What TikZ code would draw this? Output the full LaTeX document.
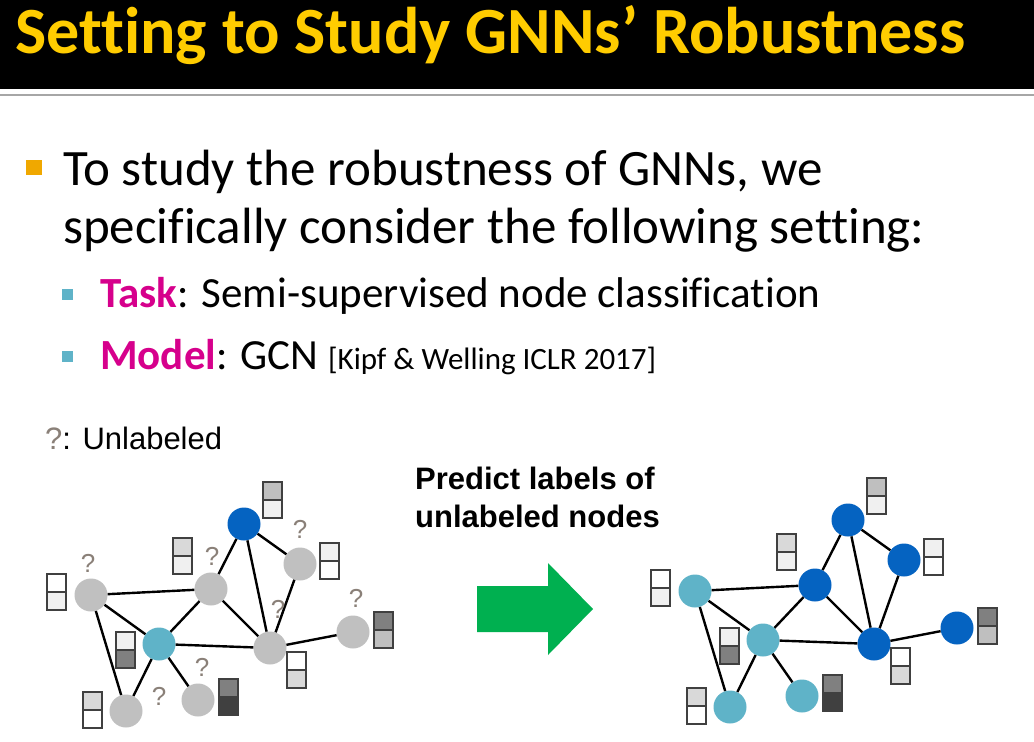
\documentclass[tikz,border=0pt]{standalone}
\usepackage{fontspec}
\setmainfont{Carlito}[Ligatures={NoCommon}]
\newfontfamily\arial{Liberation Sans}
\definecolor{ttl}{HTML}{FFCC00}
\definecolor{orb}{HTML}{F0A800}
\definecolor{tlb}{HTML}{5FB3C8}
\definecolor{mag}{HTML}{D6008C}
\definecolor{dblue}{HTML}{0563C1}
\definecolor{lgray}{HTML}{C0C0C0}
\definecolor{qcol}{HTML}{8A8078}
\definecolor{grn}{HTML}{00B050}
\tikzset{
  gnode/.style={circle,minimum size=33pt,inner sep=0pt},
  edge/.style={line width=2.4pt},
  cell/.style={draw=black!75,line width=1.4pt},
  qm/.style={text=qcol,font=\arial\fontsize{26}{26}\selectfont,inner sep=0pt},
  txt/.style={anchor=base west,inner sep=0pt}
}
\newcommand\featbox[4]{% x y top bottom
  \fill[#3] (#1,#2) rectangle ++(19,18);
  \fill[#4] (#1,#2+18) rectangle ++(19,18);
  \draw[cell] (#1,#2) rectangle ++(19,36);
  \draw[cell] (#1,#2+18) -- ++(19,0);
}
\newcommand\mygraph[6]{% prefix dx dy colorUnl colorteal colorA
  \begin{scope}[shift={(#2,#3)}]
  \node[gnode,fill=#6] (#1A) at (244,524) {};
  \node[gnode,fill=#4] (#1B) at (300,564) {};
  \node[gnode,fill=#4] (#1C) at (211,589) {};
  \node[gnode,fill=#5] (#1D) at (91,595) {};
  \node[gnode,fill=tlb] (#1E) at (159,644) {};
  \node[gnode,fill=#4] (#1F) at (270,648) {};
  \node[gnode,fill=#4] (#1G) at (353,632) {};
  \node[gnode,fill=#5] (#1H) at (126,711) {};
  \node[gnode,fill=#5] (#1I) at (198,700) {};
  \foreach \a/\b in {A/C,A/B,A/F,B/F,D/C,D/E,D/H,C/E,C/F,E/F,E/H,E/I,F/G}
    \draw[edge] (#1\a) -- (#1\b);
  \featbox{263}{482}{black!25}{black!6}
  \featbox{320}{543}{black!6}{white}
  \featbox{173}{538}{black!15}{black!6}
  \featbox{47}{574}{white}{black!6}
  \featbox{116}{632}{black!6}{black!50}
  \featbox{287}{652}{white}{black!15}
  \featbox{374}{612}{black!50}{black!25}
  \featbox{83}{692}{black!15}{white}
  \featbox{219}{679}{black!50}{black!75}
  \end{scope}
}
\begin{document}
\begin{tikzpicture}[x=1pt,y=-1pt]
\useasboundingbox (0,0) rectangle (1034,742);
\fill[white] (0,0) rectangle (1034,742);
\fill[black] (0,0) rectangle (1034,89);
\fill[black!35] (0,94) rectangle (1034,96);
\node[txt,text=ttl,font=\bfseries\fontsize{66}{66}\selectfont] (title) at (15,53) {Setting to Study GNNs’ Robustness};
\fill[orb] (26,160) rectangle (42,175);
\node[txt,font=\fontsize{51}{51}\selectfont] (b1) at (63,185) {To study the robustness of GNNs, we};
\node[txt,font=\fontsize{51}{51}\selectfont] (b1b) at (63,243) {specifically consider the following setting:};
\fill[tlb] (62,289) rectangle (73,300);
\node[txt,font=\fontsize{43}{43}\selectfont] (b2) at (100,307) {\textcolor{mag}{\bfseries Task}: Semi-supervised node classification};
\fill[tlb] (62,351) rectangle (73,362);
\node[txt,font=\fontsize{43}{43}\selectfont] (b3) at (100,369) {\textcolor{mag}{\bfseries Model}: GCN {\fontsize{31}{31}\selectfont[Kipf \& Welling ICLR 2017]}};
\node[txt,font=\arial\fontsize{31}{31}\selectfont] (unl) at (45,449) {\textcolor{qcol}{?}: Unlabeled};
\node[txt,font=\arial\bfseries\fontsize{31}{31}\selectfont] (pred) at (415,489) {Predict labels of};
\node[txt,font=\arial\bfseries\fontsize{31}{31}\selectfont] (pred2) at (415,527) {unlabeled nodes};
\fill[grn] (477,586) -- (548,586) -- (548,563) -- (593,609) -- (548,655) -- (548,632) -- (477,632) -- cycle;
\mygraph{l}{0}{0}{lgray}{lgray}{dblue}
\mygraph{r}{604}{-4}{dblue}{tlb}{dblue}
\node[qm] (q1) at (88,563) {?};
\node[qm] (q2) at (212,556) {?};
\node[qm] (q3) at (300,529) {?};
\node[qm] (q4) at (278,609) {?};
\node[qm] (q5) at (356,598) {?};
\node[qm] (q6) at (202,667) {?};
\node[qm] (q7) at (159,696) {?};
\end{tikzpicture}
\end{document}
